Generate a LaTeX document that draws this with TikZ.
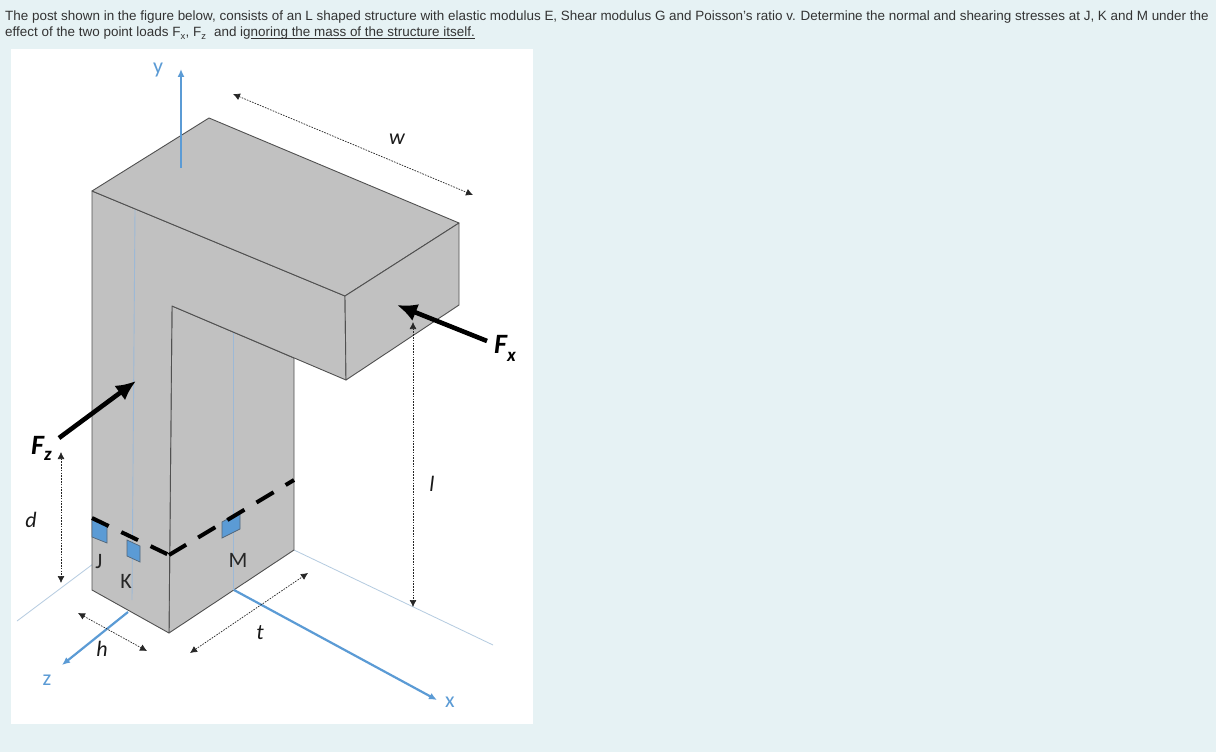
\documentclass[tikz,border=0pt]{standalone}
\usepackage{fontspec}
\setmainfont{Liberation Sans}
\newfontfamily\labelfont{Carlito}
\usetikzlibrary{positioning,arrows.meta}
\definecolor{pagebg}{HTML}{E6F2F4}
\definecolor{solidgrey}{HTML}{C1C1C1}
\definecolor{edgegrey}{HTML}{505050}
\definecolor{axisblue}{HTML}{5B9BD5}
\definecolor{thinblue}{HTML}{B4CBE0}
\definecolor{faceblue}{HTML}{9DB9D6}
\definecolor{lettertext}{HTML}{333333}
\tikzset{>=latex}
\tikzset{
  face/.style={fill=solidgrey,draw=edgegrey,line width=0.9pt,line join=round},
  axisline/.style={-{Latex[length=8pt,width=7pt]},draw=axisblue,line width=2.2pt},
  thinline/.style={draw=thinblue,line width=0.8pt},
  faceline/.style={draw=faceblue,line width=0.9pt},
  dimline/.style={{Latex[length=7pt,width=7pt]}-{Latex[length=7pt,width=7pt]},dash pattern=on 1.6pt off 1.2pt,line width=0.7pt,black!85},
  forceline/.style={-{Latex[length=20pt,width=18pt]},line width=4.6pt,black},
  patch/.style={fill=axisblue,draw=edgegrey!70!axisblue,line width=0.7pt},
  cutleft/.style={line width=4pt,black,dash pattern=on 18.5pt off 14pt},
  cutright/.style={line width=4pt,black,dash pattern=on 20pt off 14pt},
  textline/.style={anchor=base west,inner sep=0pt,font=\fontsize{13.44}{15}\selectfont,text=lettertext},
  partlabel/.style={inner sep=0pt,font=\labelfont\fontsize{22}{24}\selectfont,text=black!85},
  dimlabel/.style={inner sep=0pt,font=\labelfont\itshape\fontsize{22}{24}\selectfont,text=black!90},
  axislabel/.style={inner sep=0pt,font=\labelfont\fontsize{22}{24}\selectfont,text=axisblue},
  forcelabel/.style={inner sep=0pt,anchor=base west,font=\labelfont\bfseries\itshape\fontsize{28}{30}\selectfont}
}
\newcommand{\lowsub}[2]{\raisebox{-#1pt}{\fontsize{19}{19}\selectfont #2}}
\begin{document}
\begin{tikzpicture}[x=1pt,y=-1pt]
  \useasboundingbox (0,0) rectangle (1216,752);
  \fill[pagebg] (0,0) rectangle (1216,752);
  \fill[white] (11,49) rectangle (533,724);
  % question text
  \node[textline] (lineone) at (5,21) {The post shown in the figure below, consists of an L shaped structure with elastic modulus E, Shear modulus G and Poisson’s ratio v. Determine the normal and shearing stresses at J, K and M under the};
  \node[textline] (linetwo) at (5,37) {effect of the two point loads F\textsubscript{x}, F\textsubscript{z}\ \ and ig\underline{\smash{noring the mass of the structure itself.}}};
  % axes behind the post
  \coordinate (zback) at (17,621);
  \coordinate (zfront) at (125,540);
  \coordinate (xback) at (294,550);
  \coordinate (xfar) at (493,645);
  \draw[thinline] (zback) -- (zfront);
  \draw[thinline] (xback) -- (xfar);
  % the L shape
  \coordinate (topA) at (92,191);
  \coordinate (topB) at (209,118);
  \coordinate (topC) at (459,223);
  \coordinate (topD) at (345,296);
  \coordinate (endC) at (459,305);
  \coordinate (endD) at (346,380);
  \coordinate (inner) at (172,306);
  \coordinate (footA) at (92,590);
  \coordinate (footB) at (169,633);
  \coordinate (footC) at (294,550);
  \coordinate (backC) at (294,358);
  \draw[face] (inner) -- (backC) -- (footC) -- (footB) -- cycle;
  \draw[face] (topA) -- (topD) -- (endD) -- (inner) -- (footB) -- (footA) -- cycle;
  \draw[face] (topA) -- (topB) -- (topC) -- (topD) -- cycle;
  \draw[face] (topD) -- (topC) -- (endC) -- (endD) -- cycle;
  % centre lines on the faces
  \coordinate (kup) at (135,210);
  \coordinate (kdown) at (132,600);
  \coordinate (mup) at (233,333);
  \coordinate (mdown) at (233,590);
  \draw[faceline] (kup) -- (kdown);
  \draw[faceline] (mup) -- (mdown);
  % axes
  \coordinate (yfoot) at (181,168);
  \coordinate (ytip) at (181,69);
  \coordinate (zfoot) at (128,612);
  \coordinate (ztip) at (62,665);
  \coordinate (xfoot) at (234,590);
  \coordinate (xtip) at (437,700);
  \draw[axisline] (yfoot) -- (ytip);
  \draw[axisline] (zfoot) -- (ztip);
  \draw[axisline] (xfoot) -- (xtip);
  % the cut
  \coordinate (cutA) at (92,518);
  \coordinate (cutB) at (169,555);
  \coordinate (cutC) at (294,480);
  \draw[patch] (92,520) -- (107,526) -- (107,543) -- (92,537) -- cycle;
  \draw[patch] (127,540) -- (140,546) -- (140,562) -- (127,556) -- cycle;
  \draw[patch] (222,522) -- (240,512) -- (240,529) -- (222,538) -- cycle;
  \draw[cutleft] (cutA) -- (cutB);
  \draw[cutright] (cutB) -- (cutC);
  % dimensions
  \coordinate (wa) at (233,94);
  \coordinate (wb) at (473,195);
  \coordinate (la) at (413,322);
  \coordinate (lb) at (413,607);
  \coordinate (da) at (61,452);
  \coordinate (db) at (61,583);
  \coordinate (ha) at (78,613);
  \coordinate (hb) at (147,651);
  \coordinate (ta) at (190,653);
  \coordinate (tb) at (308,573);
  \draw[dimline] (wa) -- (wb);
  \draw[dimline] (la) -- (lb);
  \draw[dimline] (da) -- (db);
  \draw[dimline] (ha) -- (hb);
  \draw[dimline] (ta) -- (tb);
  % the two loads
  \coordinate (fza) at (59,438);
  \coordinate (fzb) at (136,381);
  \coordinate (fxa) at (487,341);
  \coordinate (fxb) at (397,305);
  \draw[forceline] (fza) -- (fzb);
  \draw[forceline] (fxa) -- (fxb);
  % labels
  \node[dimlabel] (wlabel) at (397,139) {w};
  \node[dimlabel] (llabel) at (432,484) {l};
  \node[dimlabel] (dlabel) at (31,520) {d};
  \node[dimlabel] (hlabel) at (102,649) {h};
  \node[dimlabel] (tlabel) at (260,633) {t};
  \node[partlabel] (jlabel) at (99,562) {J};
  \node[partlabel] (klabel) at (126,581) {K};
  \node[partlabel] (mlabel) at (238,560) {M};
  \node[axislabel] (ylabel) at (158,70) {y};
  \node[axislabel] (zlabel) at (47,680) {z};
  \node[axislabel] (xlabel) at (450,702) {x};
  \node[forcelabel] (fxlabel) at (494,353) {F\lowsub{8}{x}};
  \node[forcelabel] (fzlabel) at (31,454) {F\lowsub{6}{z}};
\end{tikzpicture}
\end{document}
